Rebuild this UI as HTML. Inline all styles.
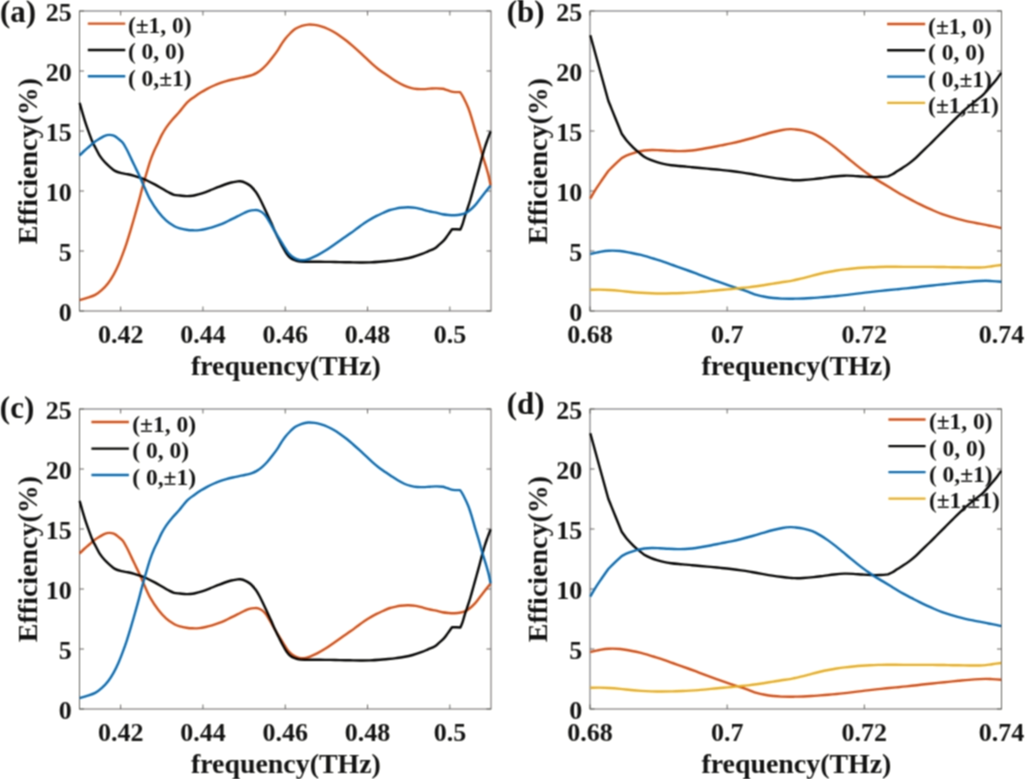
<!DOCTYPE html>
<html><head><meta charset="utf-8"><style>
html,body{margin:0;padding:0;background:#fff;width:1025px;height:779px;overflow:hidden}
svg{display:block}
</style></head><body>
<svg width="1025" height="779" viewBox="0 0 1025 779">
<defs><filter id="bl" filterUnits="userSpaceOnUse" x="-10" y="-10" width="1045" height="799" color-interpolation-filters="sRGB"><feColorMatrix in="SourceGraphic" type="matrix" values="0.299 0.587 0.114 0 0 0.299 0.587 0.114 0 0 0.299 0.587 0.114 0 0 0 0 0 1 0" result="Y"/><feColorMatrix in="SourceGraphic" type="matrix" values="0.3505 -0.2935 -0.0570 0.0000 0.5000 -0.1495 0.2065 -0.0570 0.0000 0.5000 -0.1495 -0.2935 0.4430 0.0000 0.5000 0.0000 0.0000 0.0000 1.0000 0.0000" result="C"/><feConvolveMatrix in="C" order="5" kernelMatrix="1 4 6 4 1 4 16 24 16 4 6 24 36 24 6 4 16 24 16 4 1 4 6 4 1" edgeMode="duplicate" result="Cb"/><feConvolveMatrix in="Y" order="3" kernelMatrix="0.2500 0.5000 0.2500 0.5000 1.0000 0.5000 0.2500 0.5000 0.2500" edgeMode="duplicate" result="Yb"/><feComposite in="Yb" in2="Cb" operator="arithmetic" k1="0" k2="1" k3="2.0000" k4="-0.9960"/></filter></defs>
<g filter="url(#bl)">
<rect x="-20" y="-20" width="1065" height="819" fill="#fff"/>
<g font-family='"Liberation Serif", serif' font-weight="bold" fill="#111">
<rect x="79.5" y="11.0" width="411.5" height="300.0" fill="none" stroke="#606060" stroke-width="1"/>
<line x1="120.65" y1="311.0" x2="120.65" y2="306.5" stroke="#606060" stroke-width="1"/>
<line x1="120.65" y1="11.0" x2="120.65" y2="15.5" stroke="#606060" stroke-width="1"/>
<line x1="202.95" y1="311.0" x2="202.95" y2="306.5" stroke="#606060" stroke-width="1"/>
<line x1="202.95" y1="11.0" x2="202.95" y2="15.5" stroke="#606060" stroke-width="1"/>
<line x1="285.25" y1="311.0" x2="285.25" y2="306.5" stroke="#606060" stroke-width="1"/>
<line x1="285.25" y1="11.0" x2="285.25" y2="15.5" stroke="#606060" stroke-width="1"/>
<line x1="367.55" y1="311.0" x2="367.55" y2="306.5" stroke="#606060" stroke-width="1"/>
<line x1="367.55" y1="11.0" x2="367.55" y2="15.5" stroke="#606060" stroke-width="1"/>
<line x1="449.85" y1="311.0" x2="449.85" y2="306.5" stroke="#606060" stroke-width="1"/>
<line x1="449.85" y1="11.0" x2="449.85" y2="15.5" stroke="#606060" stroke-width="1"/>
<line x1="79.5" y1="311.0" x2="84.0" y2="311.0" stroke="#606060" stroke-width="1"/>
<line x1="491.0" y1="311.0" x2="486.5" y2="311.0" stroke="#606060" stroke-width="1"/>
<line x1="79.5" y1="251.0" x2="84.0" y2="251.0" stroke="#606060" stroke-width="1"/>
<line x1="491.0" y1="251.0" x2="486.5" y2="251.0" stroke="#606060" stroke-width="1"/>
<line x1="79.5" y1="191.0" x2="84.0" y2="191.0" stroke="#606060" stroke-width="1"/>
<line x1="491.0" y1="191.0" x2="486.5" y2="191.0" stroke="#606060" stroke-width="1"/>
<line x1="79.5" y1="131.0" x2="84.0" y2="131.0" stroke="#606060" stroke-width="1"/>
<line x1="491.0" y1="131.0" x2="486.5" y2="131.0" stroke="#606060" stroke-width="1"/>
<line x1="79.5" y1="71.0" x2="84.0" y2="71.0" stroke="#606060" stroke-width="1"/>
<line x1="491.0" y1="71.0" x2="486.5" y2="71.0" stroke="#606060" stroke-width="1"/>
<line x1="79.5" y1="11.0" x2="84.0" y2="11.0" stroke="#606060" stroke-width="1"/>
<line x1="491.0" y1="11.0" x2="486.5" y2="11.0" stroke="#606060" stroke-width="1"/>
<text x="120.7" y="343.3" font-size="26" text-anchor="middle" >0.42</text>
<text x="202.9" y="343.3" font-size="26" text-anchor="middle" >0.44</text>
<text x="285.2" y="343.3" font-size="26" text-anchor="middle" >0.46</text>
<text x="367.6" y="343.3" font-size="26" text-anchor="middle" >0.48</text>
<text x="449.9" y="343.3" font-size="26" text-anchor="middle" >0.5</text>
<text x="71.7" y="321.0" font-size="26" text-anchor="end" >0</text>
<text x="71.7" y="261.0" font-size="26" text-anchor="end" >5</text>
<text x="71.7" y="201.0" font-size="26" text-anchor="end" >10</text>
<text x="71.7" y="141.0" font-size="26" text-anchor="end" >15</text>
<text x="71.7" y="81.0" font-size="26" text-anchor="end" >20</text>
<text x="71.7" y="21.0" font-size="26" text-anchor="end" >25</text>
<text x="285.9" y="374.8" font-size="27.9" text-anchor="middle" >frequency(THz)</text>
<text x="36.5" y="161.0" font-size="28" text-anchor="middle" transform="rotate(-90 36.5 161.0)">Efficiency(%)</text>
<g fill="none" stroke-width="2.4" stroke-linejoin="round" stroke-linecap="butt">
<path d="M79.80,300.10 C81.02,299.74 84.53,298.81 87.10,297.95 C89.67,297.09 92.78,296.22 95.20,294.92 C97.62,293.63 99.45,292.13 101.60,290.17 C103.75,288.22 106.07,285.85 108.10,283.20 C110.13,280.55 112.05,277.43 113.80,274.30 C115.55,271.17 117.12,267.77 118.60,264.40 C120.08,261.03 121.35,257.70 122.70,254.10 C124.05,250.50 125.37,246.84 126.70,242.80 C128.03,238.76 129.35,234.39 130.70,229.88 C132.05,225.36 133.45,220.47 134.80,215.73 C136.15,210.98 137.52,206.16 138.80,201.40 C140.08,196.64 141.22,191.87 142.50,187.18 C143.78,182.48 145.22,177.59 146.50,173.25 C147.78,168.91 148.95,164.79 150.20,161.12 C151.45,157.46 152.70,154.27 154.00,151.25 C155.30,148.23 156.75,145.64 158.00,143.00 C159.25,140.36 160.12,138.04 161.50,135.43 C162.88,132.81 164.43,130.03 166.30,127.32 C168.17,124.62 170.57,121.71 172.70,119.20 C174.83,116.69 177.30,114.34 179.10,112.25 C180.90,110.16 182.05,108.42 183.50,106.68 C184.95,104.93 186.00,103.40 187.80,101.78 C189.60,100.15 192.15,98.49 194.30,96.95 C196.45,95.41 198.57,93.90 200.70,92.55 C202.83,91.20 204.97,90.01 207.10,88.88 C209.23,87.74 211.37,86.70 213.50,85.75 C215.63,84.80 217.77,83.94 219.90,83.17 C222.03,82.41 224.15,81.76 226.30,81.15 C228.45,80.54 230.65,80.00 232.80,79.50 C234.95,79.00 237.07,78.58 239.20,78.12 C241.33,77.67 243.47,77.28 245.60,76.78 C247.73,76.27 250.07,75.77 252.00,75.08 C253.93,74.38 255.48,73.64 257.20,72.60 C258.92,71.56 260.60,70.33 262.30,68.85 C264.00,67.37 265.68,65.63 267.40,63.70 C269.12,61.77 270.88,59.50 272.60,57.27 C274.32,55.05 276.22,52.55 277.70,50.35 C279.18,48.15 280.20,46.08 281.50,44.10 C282.80,42.12 284.03,40.31 285.50,38.50 C286.97,36.69 288.65,34.86 290.30,33.25 C291.95,31.64 293.48,30.06 295.40,28.82 C297.32,27.59 299.67,26.53 301.80,25.82 C303.93,25.12 306.05,24.73 308.20,24.58 C310.35,24.43 312.55,24.62 314.70,24.93 C316.85,25.23 318.97,25.79 321.10,26.43 C323.23,27.06 325.37,27.82 327.50,28.75 C329.63,29.68 331.77,30.78 333.90,32.03 C336.03,33.27 338.15,34.70 340.30,36.20 C342.45,37.70 344.65,39.31 346.80,41.03 C348.95,42.74 351.07,44.61 353.20,46.47 C355.33,48.34 357.47,50.28 359.60,52.23 C361.73,54.17 363.87,56.17 366.00,58.15 C368.13,60.13 370.27,62.21 372.40,64.10 C374.53,65.99 376.65,67.82 378.80,69.47 C380.95,71.13 383.20,72.60 385.30,74.05 C387.40,75.50 389.32,76.83 391.40,78.20 C393.48,79.57 395.65,81.02 397.80,82.28 C399.95,83.53 402.15,84.78 404.30,85.72 C406.45,86.67 408.57,87.40 410.70,87.95 C412.83,88.50 414.97,88.83 417.10,89.03 C419.23,89.22 421.37,89.18 423.50,89.12 C425.63,89.07 427.77,88.80 429.90,88.67 C432.03,88.55 434.15,88.36 436.30,88.38 C438.45,88.39 441.08,88.49 442.80,88.75 C444.52,89.01 445.32,89.52 446.60,89.95 C447.88,90.38 449.10,90.97 450.50,91.32 C451.90,91.68 453.40,91.97 455.00,92.10 C456.60,92.23 460.10,92.10 460.10,92.10 C460.10,92.10 461.92,94.51 463.30,97.20 C464.68,99.89 466.93,104.49 468.40,108.22 C469.87,111.96 470.92,115.73 472.10,119.60 C473.28,123.47 474.33,127.51 475.50,131.43 C476.67,135.34 477.98,139.25 479.10,143.07 C480.22,146.90 481.08,150.55 482.20,154.35 C483.32,158.15 484.70,162.19 485.80,165.90 C486.90,169.61 488.00,173.36 488.80,176.62 C489.60,179.89 490.30,184.02 490.60,185.50" stroke="#D25018"/>
<path d="M79.60,102.80 C80.15,104.73 81.82,110.75 82.90,114.40 C83.98,118.05 85.03,121.50 86.10,124.70 C87.17,127.90 88.23,130.72 89.30,133.60 C90.37,136.48 91.43,139.57 92.50,142.00 C93.57,144.43 94.53,145.98 95.70,148.20 C96.87,150.42 98.00,153.00 99.50,155.30 C101.00,157.60 102.98,160.08 104.70,162.00 C106.42,163.92 108.10,165.32 109.80,166.80 C111.50,168.28 112.97,169.83 114.90,170.90 C116.83,171.97 119.25,172.63 121.40,173.20 C123.55,173.77 125.67,173.87 127.80,174.30 C129.93,174.73 132.07,175.20 134.20,175.80 C136.33,176.40 138.47,177.12 140.60,177.90 C142.73,178.68 144.65,179.42 147.00,180.50 C149.35,181.58 152.13,183.02 154.70,184.40 C157.27,185.78 160.18,187.53 162.40,188.80 C164.62,190.07 166.07,191.00 168.00,192.00 C169.93,193.00 172.00,194.22 174.00,194.80 C176.00,195.38 177.93,195.28 180.00,195.50 C182.07,195.72 184.27,196.07 186.40,196.10 C188.53,196.13 190.65,196.03 192.80,195.70 C194.95,195.37 197.15,194.70 199.30,194.10 C201.45,193.50 203.57,192.87 205.70,192.10 C207.83,191.33 209.97,190.37 212.10,189.50 C214.23,188.63 216.37,187.73 218.50,186.90 C220.63,186.07 222.77,185.23 224.90,184.50 C227.03,183.77 229.37,182.98 231.30,182.50 C233.23,182.02 235.00,181.80 236.50,181.60 C238.00,181.40 238.80,181.10 240.30,181.30 C241.80,181.50 243.78,182.02 245.50,182.80 C247.22,183.58 248.90,184.50 250.60,186.00 C252.30,187.50 254.20,189.77 255.70,191.80 C257.20,193.83 258.32,195.85 259.60,198.20 C260.88,200.55 262.12,203.22 263.40,205.90 C264.68,208.58 266.02,211.52 267.30,214.30 C268.58,217.08 269.82,219.72 271.10,222.60 C272.38,225.48 273.72,228.82 275.00,231.60 C276.28,234.38 277.52,236.73 278.80,239.30 C280.08,241.87 281.42,244.63 282.70,247.00 C283.98,249.37 285.28,251.75 286.50,253.50 C287.72,255.25 288.75,256.43 290.00,257.50 C291.25,258.57 292.27,259.22 294.00,259.90 C295.73,260.58 297.73,261.30 300.40,261.60 C303.07,261.90 306.73,261.67 310.00,261.70 C313.27,261.73 316.67,261.77 320.00,261.80 C323.33,261.83 326.67,261.85 330.00,261.90 C333.33,261.95 336.67,262.03 340.00,262.10 C343.33,262.17 346.67,262.23 350.00,262.30 C353.33,262.37 356.67,262.48 360.00,262.50 C363.33,262.52 366.67,262.52 370.00,262.40 C373.33,262.28 377.00,262.03 380.00,261.80 C383.00,261.57 385.33,261.28 388.00,261.00 C390.67,260.72 393.42,260.43 396.00,260.10 C398.58,259.77 400.72,259.52 403.50,259.00 C406.28,258.48 409.62,257.85 412.70,257.00 C415.78,256.15 419.45,254.85 422.00,253.90 C424.55,252.95 425.90,252.20 428.00,251.30 C430.10,250.40 432.73,249.60 434.60,248.50 C436.47,247.40 437.65,246.05 439.20,244.70 C440.75,243.35 442.48,241.95 443.90,240.40 C445.32,238.85 446.35,237.25 447.70,235.40 C449.05,233.55 452.00,229.30 452.00,229.30 C452.00,229.30 454.60,229.27 456.00,229.30 C457.40,229.33 460.40,229.50 460.40,229.50 C460.40,229.50 461.68,226.80 462.40,224.70 C463.12,222.60 463.93,219.35 464.70,216.90 C465.47,214.45 466.05,212.90 467.00,210.00 C467.95,207.10 469.32,203.08 470.40,199.50 C471.48,195.92 472.48,192.12 473.50,188.50 C474.52,184.88 475.48,181.47 476.50,177.80 C477.52,174.13 478.65,170.05 479.60,166.50 C480.55,162.95 481.38,159.50 482.20,156.50 C483.02,153.50 483.70,151.08 484.50,148.50 C485.30,145.92 485.98,143.87 487.00,141.00 C488.02,138.13 490.00,132.92 490.60,131.30" stroke="#000000"/>
<path d="M79.60,155.50 C80.35,154.75 82.48,152.50 84.10,151.00 C85.72,149.50 87.58,148.00 89.30,146.50 C91.02,145.00 92.70,143.28 94.40,142.00 C96.10,140.72 97.78,139.83 99.50,138.80 C101.22,137.77 103.08,136.45 104.70,135.80 C106.32,135.15 107.70,134.93 109.20,134.90 C110.70,134.87 112.32,135.07 113.70,135.60 C115.08,136.13 116.02,136.93 117.50,138.10 C118.98,139.27 121.10,140.78 122.60,142.60 C124.10,144.42 125.22,146.63 126.50,149.00 C127.78,151.37 129.02,154.12 130.30,156.80 C131.58,159.48 132.92,162.43 134.20,165.10 C135.48,167.77 136.78,170.23 138.00,172.80 C139.22,175.37 140.42,178.05 141.50,180.50 C142.58,182.95 143.05,184.32 144.50,187.50 C145.95,190.68 147.92,195.57 150.20,199.60 C152.48,203.63 155.52,208.20 158.20,211.70 C160.88,215.20 163.60,218.18 166.30,220.60 C169.00,223.02 172.12,224.92 174.40,226.20 C176.68,227.48 178.00,227.72 180.00,228.30 C182.00,228.88 184.27,229.37 186.40,229.70 C188.53,230.03 190.65,230.23 192.80,230.30 C194.95,230.37 197.15,230.32 199.30,230.10 C201.45,229.88 203.57,229.45 205.70,229.00 C207.83,228.55 209.97,228.03 212.10,227.40 C214.23,226.77 216.37,226.00 218.50,225.20 C220.63,224.40 222.77,223.57 224.90,222.60 C227.03,221.63 229.15,220.47 231.30,219.40 C233.45,218.33 235.65,217.27 237.80,216.20 C239.95,215.13 242.28,213.90 244.20,213.00 C246.12,212.10 247.58,211.28 249.30,210.80 C251.02,210.32 253.00,210.18 254.50,210.10 C256.00,210.02 257.02,209.92 258.30,210.30 C259.58,210.68 260.92,211.42 262.20,212.40 C263.48,213.38 264.72,214.50 266.00,216.20 C267.28,217.90 268.40,220.03 269.90,222.60 C271.40,225.17 273.32,228.70 275.00,231.60 C276.68,234.50 278.45,237.47 280.00,240.00 C281.55,242.53 282.87,244.58 284.30,246.80 C285.73,249.02 286.98,251.47 288.60,253.30 C290.22,255.13 292.22,256.70 294.00,257.80 C295.78,258.90 297.33,259.55 299.30,259.90 C301.27,260.25 303.83,260.20 305.80,259.90 C307.77,259.60 309.13,258.90 311.10,258.10 C313.07,257.30 315.27,256.32 317.60,255.10 C319.93,253.88 322.42,252.50 325.10,250.80 C327.78,249.10 330.85,246.87 333.70,244.90 C336.55,242.93 339.35,240.97 342.20,239.00 C345.05,237.03 347.93,235.15 350.80,233.10 C353.67,231.05 356.53,228.75 359.40,226.70 C362.27,224.65 365.13,222.60 368.00,220.80 C370.87,219.00 374.10,217.20 376.60,215.90 C379.10,214.60 380.77,213.98 383.00,213.00 C385.23,212.02 388.00,210.70 390.00,210.00 C392.00,209.30 393.27,209.17 395.00,208.80 C396.73,208.43 398.22,208.05 400.40,207.80 C402.58,207.55 405.53,207.28 408.10,207.30 C410.67,207.32 413.23,207.48 415.80,207.90 C418.37,208.32 421.13,209.20 423.50,209.80 C425.87,210.40 427.88,211.02 430.00,211.50 C432.12,211.98 434.15,212.23 436.20,212.70 C438.25,213.17 440.25,213.92 442.30,214.30 C444.35,214.68 446.43,214.85 448.50,215.00 C450.57,215.15 452.65,215.28 454.70,215.20 C456.75,215.12 459.02,214.85 460.80,214.50 C462.58,214.15 463.85,213.85 465.40,213.10 C466.95,212.35 468.50,211.28 470.10,210.00 C471.70,208.72 473.42,207.15 475.00,205.40 C476.58,203.65 477.80,201.82 479.60,199.50 C481.40,197.18 483.97,193.82 485.80,191.50 C487.63,189.18 489.80,186.58 490.60,185.60" stroke="#0A6AB0"/>
</g>
<rect x="590.0" y="11.0" width="411.5" height="300.0" fill="none" stroke="#606060" stroke-width="1"/>
<line x1="590.0" y1="311.0" x2="590.0" y2="306.5" stroke="#606060" stroke-width="1"/>
<line x1="590.0" y1="11.0" x2="590.0" y2="15.5" stroke="#606060" stroke-width="1"/>
<line x1="727.1666666666666" y1="311.0" x2="727.1666666666666" y2="306.5" stroke="#606060" stroke-width="1"/>
<line x1="727.1666666666666" y1="11.0" x2="727.1666666666666" y2="15.5" stroke="#606060" stroke-width="1"/>
<line x1="864.3333333333333" y1="311.0" x2="864.3333333333333" y2="306.5" stroke="#606060" stroke-width="1"/>
<line x1="864.3333333333333" y1="11.0" x2="864.3333333333333" y2="15.5" stroke="#606060" stroke-width="1"/>
<line x1="1001.5" y1="311.0" x2="1001.5" y2="306.5" stroke="#606060" stroke-width="1"/>
<line x1="1001.5" y1="11.0" x2="1001.5" y2="15.5" stroke="#606060" stroke-width="1"/>
<line x1="590.0" y1="311.0" x2="594.5" y2="311.0" stroke="#606060" stroke-width="1"/>
<line x1="1001.5" y1="311.0" x2="997.0" y2="311.0" stroke="#606060" stroke-width="1"/>
<line x1="590.0" y1="251.0" x2="594.5" y2="251.0" stroke="#606060" stroke-width="1"/>
<line x1="1001.5" y1="251.0" x2="997.0" y2="251.0" stroke="#606060" stroke-width="1"/>
<line x1="590.0" y1="191.0" x2="594.5" y2="191.0" stroke="#606060" stroke-width="1"/>
<line x1="1001.5" y1="191.0" x2="997.0" y2="191.0" stroke="#606060" stroke-width="1"/>
<line x1="590.0" y1="131.0" x2="594.5" y2="131.0" stroke="#606060" stroke-width="1"/>
<line x1="1001.5" y1="131.0" x2="997.0" y2="131.0" stroke="#606060" stroke-width="1"/>
<line x1="590.0" y1="71.0" x2="594.5" y2="71.0" stroke="#606060" stroke-width="1"/>
<line x1="1001.5" y1="71.0" x2="997.0" y2="71.0" stroke="#606060" stroke-width="1"/>
<line x1="590.0" y1="11.0" x2="594.5" y2="11.0" stroke="#606060" stroke-width="1"/>
<line x1="1001.5" y1="11.0" x2="997.0" y2="11.0" stroke="#606060" stroke-width="1"/>
<text x="590.0" y="343.3" font-size="26" text-anchor="middle" >0.68</text>
<text x="727.2" y="343.3" font-size="26" text-anchor="middle" >0.7</text>
<text x="864.3" y="343.3" font-size="26" text-anchor="middle" >0.72</text>
<text x="1001.5" y="343.3" font-size="26" text-anchor="middle" >0.74</text>
<text x="582.2" y="321.0" font-size="26" text-anchor="end" >0</text>
<text x="582.2" y="261.0" font-size="26" text-anchor="end" >5</text>
<text x="582.2" y="201.0" font-size="26" text-anchor="end" >10</text>
<text x="582.2" y="141.0" font-size="26" text-anchor="end" >15</text>
<text x="582.2" y="81.0" font-size="26" text-anchor="end" >20</text>
<text x="582.2" y="21.0" font-size="26" text-anchor="end" >25</text>
<text x="796.4" y="374.8" font-size="27.9" text-anchor="middle" >frequency(THz)</text>
<text x="547.0" y="161.0" font-size="28" text-anchor="middle" transform="rotate(-90 547.0 161.0)">Efficiency(%)</text>
<g fill="none" stroke-width="2.4" stroke-linejoin="round" stroke-linecap="butt">
<path d="M590.30,198.60 C591.15,197.14 593.48,192.88 595.40,189.82 C597.32,186.77 599.65,183.44 601.80,180.30 C603.95,177.16 608.30,171.00 608.30,171.00 C608.30,171.00 612.47,166.75 614.70,164.60 C616.93,162.45 621.70,158.10 621.70,158.10 C621.70,158.10 626.33,155.70 628.80,154.70 C631.27,153.70 633.93,152.78 636.50,152.07 C639.07,151.37 641.63,150.82 644.20,150.47 C646.77,150.13 649.33,150.04 651.90,150.00 C654.47,149.96 656.82,150.12 659.60,150.25 C662.38,150.38 665.60,150.63 668.60,150.78 C671.60,150.92 674.82,151.08 677.60,151.12 C680.38,151.17 682.90,151.14 685.30,151.03 C687.70,150.91 689.50,150.74 692.00,150.45 C694.50,150.16 697.22,149.78 700.30,149.28 C703.38,148.78 707.08,148.09 710.50,147.45 C713.92,146.81 717.37,146.10 720.80,145.43 C724.23,144.75 727.68,144.13 731.10,143.40 C734.52,142.67 737.88,141.89 741.30,141.02 C744.72,140.16 748.17,139.20 751.60,138.23 C755.03,137.25 758.47,136.20 761.90,135.20 C765.33,134.20 768.78,133.09 772.20,132.22 C775.62,131.36 779.42,130.51 782.40,130.00 C785.38,129.49 788.00,129.25 790.10,129.15 C792.20,129.05 792.80,129.15 795.00,129.40 C797.20,129.65 800.42,129.99 803.30,130.62 C806.18,131.26 809.52,132.14 812.30,133.23 C815.08,134.31 817.43,135.67 820.00,137.15 C822.57,138.63 825.13,140.33 827.70,142.12 C830.27,143.92 832.83,145.89 835.40,147.90 C837.97,149.91 840.53,152.06 843.10,154.17 C845.67,156.29 848.23,158.49 850.80,160.60 C853.37,162.71 855.93,164.85 858.50,166.85 C861.07,168.85 863.63,170.76 866.20,172.62 C868.77,174.49 871.12,176.26 873.90,178.05 C876.68,179.84 880.12,181.68 882.90,183.35 C885.68,185.02 888.25,186.61 890.60,188.05 C892.95,189.49 894.82,190.70 897.00,192.00 C899.18,193.30 901.30,194.51 903.70,195.82 C906.10,197.14 908.83,198.53 911.40,199.88 C913.97,201.22 916.53,202.63 919.10,203.93 C921.67,205.22 924.23,206.47 926.80,207.65 C929.37,208.83 931.93,209.93 934.50,211.00 C937.07,212.07 939.63,213.10 942.20,214.05 C944.77,215.00 947.33,215.87 949.90,216.67 C952.47,217.48 955.03,218.19 957.60,218.88 C960.17,219.56 962.73,220.21 965.30,220.80 C967.87,221.39 970.43,221.91 973.00,222.43 C975.57,222.94 978.13,223.40 980.70,223.90 C983.27,224.40 985.83,224.95 988.40,225.45 C990.97,225.95 993.97,226.45 996.10,226.88 C998.23,227.30 1000.35,227.81 1001.20,228.00" stroke="#D25018"/>
<path d="M590.30,35.30 C590.30,35.30 599.30,68.00 599.30,68.00 C599.30,68.00 608.30,100.70 608.30,100.70 C608.30,100.70 610.22,105.42 611.50,108.60 C612.78,111.78 614.30,115.62 616.00,119.80 C617.70,123.98 621.70,133.70 621.70,133.70 C621.70,133.70 625.57,139.19 627.50,141.50 C629.43,143.81 631.37,145.71 633.30,147.57 C635.23,149.44 637.28,151.17 639.10,152.70 C640.92,154.22 642.28,155.54 644.20,156.72 C646.12,157.91 648.47,158.93 650.60,159.82 C652.73,160.72 654.85,161.42 657.00,162.10 C659.15,162.78 661.13,163.35 663.50,163.88 C665.87,164.40 668.63,164.87 671.20,165.22 C673.77,165.58 676.33,165.80 678.90,166.03 C681.47,166.25 684.42,166.40 686.60,166.60 C688.78,166.80 689.72,167.01 692.00,167.25 C694.28,167.49 697.22,167.75 700.30,168.03 C703.38,168.30 707.08,168.61 710.50,168.93 C713.92,169.24 717.37,169.58 720.80,169.93 C724.23,170.28 727.68,170.62 731.10,171.02 C734.52,171.43 737.88,171.85 741.30,172.35 C744.72,172.85 748.17,173.44 751.60,174.03 C755.03,174.61 758.47,175.28 761.90,175.88 C765.33,176.47 768.78,177.10 772.20,177.62 C775.62,178.15 779.42,178.65 782.40,179.02 C785.38,179.40 788.00,179.66 790.10,179.85 C792.20,180.04 792.80,180.15 795.00,180.18 C797.20,180.20 800.22,180.17 803.30,180.00 C806.38,179.83 810.08,179.51 813.50,179.15 C816.92,178.79 820.37,178.29 823.80,177.85 C827.23,177.41 830.68,176.86 834.10,176.50 C837.52,176.14 841.10,175.79 844.30,175.68 C847.50,175.56 850.30,175.68 853.30,175.83 C856.30,175.97 859.30,176.35 862.30,176.55 C865.30,176.75 868.30,176.98 871.30,177.05 C874.30,177.12 877.52,177.11 880.30,177.00 C883.08,176.89 888.00,176.40 888.00,176.40 C888.00,176.40 891.50,174.85 893.00,174.00 C894.50,173.15 895.43,172.33 897.00,171.32 C898.57,170.32 900.43,169.26 902.40,167.98 C904.37,166.69 906.65,165.22 908.80,163.62 C910.95,162.03 913.15,160.32 915.30,158.40 C917.45,156.48 919.35,154.40 921.70,152.12 C924.05,149.85 926.83,147.27 929.40,144.75 C931.97,142.23 934.53,139.57 937.10,137.00 C939.67,134.43 942.23,131.87 944.80,129.30 C947.37,126.73 949.93,124.14 952.50,121.60 C955.07,119.06 957.63,116.47 960.20,114.07 C962.77,111.67 965.33,109.39 967.90,107.20 C970.47,105.01 973.03,103.06 975.60,100.95 C978.17,98.84 980.95,96.78 983.30,94.53 C985.65,92.28 987.57,89.86 989.70,87.45 C991.83,85.04 994.18,82.49 996.10,80.05 C998.02,77.61 1000.35,74.01 1001.20,72.80" stroke="#000000"/>
<path d="M590.30,254.10 C591.82,253.75 596.32,252.56 599.40,252.00 C602.48,251.44 605.33,250.89 608.80,250.73 C612.27,250.56 616.57,250.67 620.20,251.00 C623.83,251.33 627.13,252.07 630.60,252.72 C634.07,253.38 638.10,254.21 641.00,254.90 C643.90,255.59 645.67,256.17 648.00,256.85 C650.33,257.53 652.37,258.17 655.00,259.00 C657.63,259.83 660.87,260.85 663.80,261.85 C666.73,262.85 669.68,263.96 672.60,265.00 C675.52,266.04 678.38,267.06 681.30,268.10 C684.22,269.14 687.17,270.18 690.10,271.25 C693.03,272.32 695.97,273.42 698.90,274.52 C701.83,275.62 704.77,276.76 707.70,277.85 C710.63,278.94 713.58,280.02 716.50,281.07 C719.42,282.12 722.28,283.15 725.20,284.15 C728.12,285.15 731.07,286.14 734.00,287.10 C736.93,288.06 740.13,289.02 742.80,289.93 C745.47,290.83 747.72,291.72 750.00,292.55 C752.28,293.38 754.03,294.20 756.50,294.90 C758.97,295.60 762.02,296.26 764.80,296.77 C767.58,297.29 770.42,297.69 773.20,298.00 C775.98,298.31 778.73,298.50 781.50,298.62 C784.27,298.75 787.55,298.75 789.80,298.75 C792.05,298.75 792.75,298.70 795.00,298.65 C797.25,298.60 800.53,298.58 803.30,298.48 C806.07,298.38 808.82,298.23 811.60,298.05 C814.38,297.87 817.22,297.62 820.00,297.40 C822.78,297.17 825.53,296.94 828.30,296.70 C831.07,296.46 833.83,296.24 836.60,295.98 C839.37,295.71 842.13,295.43 844.90,295.12 C847.67,294.82 850.43,294.46 853.20,294.12 C855.97,293.79 858.73,293.44 861.50,293.10 C864.27,292.76 867.02,292.43 869.80,292.10 C872.58,291.78 875.42,291.45 878.20,291.15 C880.98,290.85 883.53,290.57 886.50,290.27 C889.47,289.98 892.68,289.71 896.00,289.40 C899.32,289.09 902.92,288.77 906.40,288.40 C909.88,288.03 913.42,287.60 916.90,287.20 C920.38,286.80 923.82,286.36 927.30,285.98 C930.78,285.59 934.32,285.23 937.80,284.88 C941.28,284.52 944.73,284.17 948.20,283.82 C951.67,283.48 955.12,283.13 958.60,282.80 C962.08,282.47 965.62,282.11 969.10,281.83 C972.58,281.54 976.72,281.24 979.50,281.07 C982.28,280.91 983.72,280.82 985.80,280.82 C987.88,280.83 989.43,280.96 992.00,281.12 C994.57,281.29 999.67,281.69 1001.20,281.80" stroke="#0A6AB0"/>
<path d="M590.30,289.80 C591.82,289.77 596.32,289.62 599.40,289.65 C602.48,289.68 605.33,289.77 608.80,289.98 C612.27,290.18 616.57,290.54 620.20,290.88 C623.83,291.21 627.13,291.65 630.60,291.98 C634.07,292.30 637.53,292.60 641.00,292.82 C644.47,293.05 647.93,293.21 651.40,293.32 C654.87,293.44 658.33,293.50 661.80,293.50 C665.27,293.50 668.73,293.41 672.20,293.32 C675.67,293.24 679.63,293.09 682.60,292.97 C685.57,292.86 687.38,292.77 690.00,292.62 C692.62,292.48 695.53,292.32 698.30,292.10 C701.07,291.88 703.82,291.59 706.60,291.32 C709.38,291.06 712.22,290.79 715.00,290.52 C717.78,290.26 720.53,290.01 723.30,289.75 C726.07,289.49 728.83,289.21 731.60,288.95 C734.37,288.69 737.13,288.45 739.90,288.17 C742.67,287.90 745.43,287.64 748.20,287.32 C750.97,287.01 753.73,286.66 756.50,286.27 C759.27,285.89 762.02,285.45 764.80,285.00 C767.58,284.55 770.42,284.06 773.20,283.60 C775.98,283.14 778.73,282.66 781.50,282.25 C784.27,281.84 787.55,281.50 789.80,281.12 C792.05,280.75 792.75,280.49 795.00,280.00 C797.25,279.51 800.53,278.87 803.30,278.18 C806.07,277.48 808.82,276.59 811.60,275.85 C814.38,275.11 817.22,274.39 820.00,273.75 C822.78,273.11 825.53,272.53 828.30,272.00 C831.07,271.47 833.83,270.98 836.60,270.55 C839.37,270.12 842.13,269.74 844.90,269.40 C847.67,269.06 850.43,268.77 853.20,268.50 C855.97,268.23 858.73,267.98 861.50,267.77 C864.27,267.57 867.02,267.39 869.80,267.25 C872.58,267.11 875.42,267.00 878.20,266.93 C880.98,266.85 883.53,266.80 886.50,266.77 C889.47,266.75 892.68,266.78 896.00,266.80 C899.32,266.82 902.92,266.86 906.40,266.88 C909.88,266.89 913.42,266.90 916.90,266.90 C920.38,266.90 923.82,266.89 927.30,266.90 C930.78,266.91 934.32,266.92 937.80,266.95 C941.28,266.98 944.73,267.04 948.20,267.10 C951.67,267.16 955.12,267.24 958.60,267.30 C962.08,267.36 965.62,267.43 969.10,267.45 C972.58,267.47 976.72,267.51 979.50,267.45 C982.28,267.39 983.72,267.30 985.80,267.10 C987.88,266.90 989.43,266.58 992.00,266.23 C994.57,265.88 999.67,265.20 1001.20,265.00" stroke="#E6AE24"/>
</g>
<rect x="79.5" y="409.0" width="411.5" height="300.0" fill="none" stroke="#606060" stroke-width="1"/>
<line x1="120.65" y1="709.0" x2="120.65" y2="704.5" stroke="#606060" stroke-width="1"/>
<line x1="120.65" y1="409.0" x2="120.65" y2="413.5" stroke="#606060" stroke-width="1"/>
<line x1="202.95" y1="709.0" x2="202.95" y2="704.5" stroke="#606060" stroke-width="1"/>
<line x1="202.95" y1="409.0" x2="202.95" y2="413.5" stroke="#606060" stroke-width="1"/>
<line x1="285.25" y1="709.0" x2="285.25" y2="704.5" stroke="#606060" stroke-width="1"/>
<line x1="285.25" y1="409.0" x2="285.25" y2="413.5" stroke="#606060" stroke-width="1"/>
<line x1="367.55" y1="709.0" x2="367.55" y2="704.5" stroke="#606060" stroke-width="1"/>
<line x1="367.55" y1="409.0" x2="367.55" y2="413.5" stroke="#606060" stroke-width="1"/>
<line x1="449.85" y1="709.0" x2="449.85" y2="704.5" stroke="#606060" stroke-width="1"/>
<line x1="449.85" y1="409.0" x2="449.85" y2="413.5" stroke="#606060" stroke-width="1"/>
<line x1="79.5" y1="709.0" x2="84.0" y2="709.0" stroke="#606060" stroke-width="1"/>
<line x1="491.0" y1="709.0" x2="486.5" y2="709.0" stroke="#606060" stroke-width="1"/>
<line x1="79.5" y1="649.0" x2="84.0" y2="649.0" stroke="#606060" stroke-width="1"/>
<line x1="491.0" y1="649.0" x2="486.5" y2="649.0" stroke="#606060" stroke-width="1"/>
<line x1="79.5" y1="589.0" x2="84.0" y2="589.0" stroke="#606060" stroke-width="1"/>
<line x1="491.0" y1="589.0" x2="486.5" y2="589.0" stroke="#606060" stroke-width="1"/>
<line x1="79.5" y1="529.0" x2="84.0" y2="529.0" stroke="#606060" stroke-width="1"/>
<line x1="491.0" y1="529.0" x2="486.5" y2="529.0" stroke="#606060" stroke-width="1"/>
<line x1="79.5" y1="469.0" x2="84.0" y2="469.0" stroke="#606060" stroke-width="1"/>
<line x1="491.0" y1="469.0" x2="486.5" y2="469.0" stroke="#606060" stroke-width="1"/>
<line x1="79.5" y1="409.0" x2="84.0" y2="409.0" stroke="#606060" stroke-width="1"/>
<line x1="491.0" y1="409.0" x2="486.5" y2="409.0" stroke="#606060" stroke-width="1"/>
<text x="120.7" y="741.3" font-size="26" text-anchor="middle" >0.42</text>
<text x="202.9" y="741.3" font-size="26" text-anchor="middle" >0.44</text>
<text x="285.2" y="741.3" font-size="26" text-anchor="middle" >0.46</text>
<text x="367.6" y="741.3" font-size="26" text-anchor="middle" >0.48</text>
<text x="449.9" y="741.3" font-size="26" text-anchor="middle" >0.5</text>
<text x="71.7" y="719.0" font-size="26" text-anchor="end" >0</text>
<text x="71.7" y="659.0" font-size="26" text-anchor="end" >5</text>
<text x="71.7" y="599.0" font-size="26" text-anchor="end" >10</text>
<text x="71.7" y="539.0" font-size="26" text-anchor="end" >15</text>
<text x="71.7" y="479.0" font-size="26" text-anchor="end" >20</text>
<text x="71.7" y="419.0" font-size="26" text-anchor="end" >25</text>
<text x="285.9" y="772.8" font-size="27.9" text-anchor="middle" >frequency(THz)</text>
<text x="36.5" y="559.0" font-size="28" text-anchor="middle" transform="rotate(-90 36.5 559.0)">Efficiency(%)</text>
<g fill="none" stroke-width="2.4" stroke-linejoin="round" stroke-linecap="butt">
<path d="M79.60,553.50 C80.35,552.75 82.48,550.50 84.10,549.00 C85.72,547.50 87.58,546.00 89.30,544.50 C91.02,543.00 92.70,541.28 94.40,540.00 C96.10,538.72 97.78,537.83 99.50,536.80 C101.22,535.77 103.08,534.45 104.70,533.80 C106.32,533.15 107.70,532.93 109.20,532.90 C110.70,532.87 112.32,533.07 113.70,533.60 C115.08,534.13 116.02,534.93 117.50,536.10 C118.98,537.27 121.10,538.78 122.60,540.60 C124.10,542.42 125.22,544.63 126.50,547.00 C127.78,549.37 129.02,552.12 130.30,554.80 C131.58,557.48 132.92,560.43 134.20,563.10 C135.48,565.77 136.78,568.23 138.00,570.80 C139.22,573.37 140.42,576.05 141.50,578.50 C142.58,580.95 143.05,582.32 144.50,585.50 C145.95,588.68 147.92,593.57 150.20,597.60 C152.48,601.63 155.52,606.20 158.20,609.70 C160.88,613.20 163.60,616.18 166.30,618.60 C169.00,621.02 172.12,622.92 174.40,624.20 C176.68,625.48 178.00,625.72 180.00,626.30 C182.00,626.88 184.27,627.37 186.40,627.70 C188.53,628.03 190.65,628.23 192.80,628.30 C194.95,628.37 197.15,628.32 199.30,628.10 C201.45,627.88 203.57,627.45 205.70,627.00 C207.83,626.55 209.97,626.03 212.10,625.40 C214.23,624.77 216.37,624.00 218.50,623.20 C220.63,622.40 222.77,621.57 224.90,620.60 C227.03,619.63 229.15,618.47 231.30,617.40 C233.45,616.33 235.65,615.27 237.80,614.20 C239.95,613.13 242.28,611.90 244.20,611.00 C246.12,610.10 247.58,609.28 249.30,608.80 C251.02,608.32 253.00,608.18 254.50,608.10 C256.00,608.02 257.02,607.92 258.30,608.30 C259.58,608.68 260.92,609.42 262.20,610.40 C263.48,611.38 264.72,612.50 266.00,614.20 C267.28,615.90 268.40,618.03 269.90,620.60 C271.40,623.17 273.32,626.70 275.00,629.60 C276.68,632.50 278.45,635.47 280.00,638.00 C281.55,640.53 282.87,642.58 284.30,644.80 C285.73,647.02 286.98,649.47 288.60,651.30 C290.22,653.13 292.22,654.70 294.00,655.80 C295.78,656.90 297.33,657.55 299.30,657.90 C301.27,658.25 303.83,658.20 305.80,657.90 C307.77,657.60 309.13,656.90 311.10,656.10 C313.07,655.30 315.27,654.32 317.60,653.10 C319.93,651.88 322.42,650.50 325.10,648.80 C327.78,647.10 330.85,644.87 333.70,642.90 C336.55,640.93 339.35,638.97 342.20,637.00 C345.05,635.03 347.93,633.15 350.80,631.10 C353.67,629.05 356.53,626.75 359.40,624.70 C362.27,622.65 365.13,620.60 368.00,618.80 C370.87,617.00 374.10,615.20 376.60,613.90 C379.10,612.60 380.77,611.98 383.00,611.00 C385.23,610.02 388.00,608.70 390.00,608.00 C392.00,607.30 393.27,607.17 395.00,606.80 C396.73,606.43 398.22,606.05 400.40,605.80 C402.58,605.55 405.53,605.28 408.10,605.30 C410.67,605.32 413.23,605.48 415.80,605.90 C418.37,606.32 421.13,607.20 423.50,607.80 C425.87,608.40 427.88,609.02 430.00,609.50 C432.12,609.98 434.15,610.23 436.20,610.70 C438.25,611.17 440.25,611.92 442.30,612.30 C444.35,612.68 446.43,612.85 448.50,613.00 C450.57,613.15 452.65,613.28 454.70,613.20 C456.75,613.12 459.02,612.85 460.80,612.50 C462.58,612.15 463.85,611.85 465.40,611.10 C466.95,610.35 468.50,609.28 470.10,608.00 C471.70,606.72 473.42,605.15 475.00,603.40 C476.58,601.65 477.80,599.82 479.60,597.50 C481.40,595.18 483.97,591.82 485.80,589.50 C487.63,587.18 489.80,584.58 490.60,583.60" stroke="#D25018"/>
<path d="M79.60,500.80 C80.15,502.73 81.82,508.75 82.90,512.40 C83.98,516.05 85.03,519.50 86.10,522.70 C87.17,525.90 88.23,528.72 89.30,531.60 C90.37,534.48 91.43,537.57 92.50,540.00 C93.57,542.43 94.53,543.98 95.70,546.20 C96.87,548.42 98.00,551.00 99.50,553.30 C101.00,555.60 102.98,558.08 104.70,560.00 C106.42,561.92 108.10,563.32 109.80,564.80 C111.50,566.28 112.97,567.83 114.90,568.90 C116.83,569.97 119.25,570.63 121.40,571.20 C123.55,571.77 125.67,571.87 127.80,572.30 C129.93,572.73 132.07,573.20 134.20,573.80 C136.33,574.40 138.47,575.12 140.60,575.90 C142.73,576.68 144.65,577.42 147.00,578.50 C149.35,579.58 152.13,581.02 154.70,582.40 C157.27,583.78 160.18,585.53 162.40,586.80 C164.62,588.07 166.07,589.00 168.00,590.00 C169.93,591.00 172.00,592.22 174.00,592.80 C176.00,593.38 177.93,593.28 180.00,593.50 C182.07,593.72 184.27,594.07 186.40,594.10 C188.53,594.13 190.65,594.03 192.80,593.70 C194.95,593.37 197.15,592.70 199.30,592.10 C201.45,591.50 203.57,590.87 205.70,590.10 C207.83,589.33 209.97,588.37 212.10,587.50 C214.23,586.63 216.37,585.73 218.50,584.90 C220.63,584.07 222.77,583.23 224.90,582.50 C227.03,581.77 229.37,580.98 231.30,580.50 C233.23,580.02 235.00,579.80 236.50,579.60 C238.00,579.40 238.80,579.10 240.30,579.30 C241.80,579.50 243.78,580.02 245.50,580.80 C247.22,581.58 248.90,582.50 250.60,584.00 C252.30,585.50 254.20,587.77 255.70,589.80 C257.20,591.83 258.32,593.85 259.60,596.20 C260.88,598.55 262.12,601.22 263.40,603.90 C264.68,606.58 266.02,609.52 267.30,612.30 C268.58,615.08 269.82,617.72 271.10,620.60 C272.38,623.48 273.72,626.82 275.00,629.60 C276.28,632.38 277.52,634.73 278.80,637.30 C280.08,639.87 281.42,642.63 282.70,645.00 C283.98,647.37 285.28,649.75 286.50,651.50 C287.72,653.25 288.75,654.43 290.00,655.50 C291.25,656.57 292.27,657.22 294.00,657.90 C295.73,658.58 297.73,659.30 300.40,659.60 C303.07,659.90 306.73,659.67 310.00,659.70 C313.27,659.73 316.67,659.77 320.00,659.80 C323.33,659.83 326.67,659.85 330.00,659.90 C333.33,659.95 336.67,660.03 340.00,660.10 C343.33,660.17 346.67,660.23 350.00,660.30 C353.33,660.37 356.67,660.48 360.00,660.50 C363.33,660.52 366.67,660.52 370.00,660.40 C373.33,660.28 377.00,660.03 380.00,659.80 C383.00,659.57 385.33,659.28 388.00,659.00 C390.67,658.72 393.42,658.43 396.00,658.10 C398.58,657.77 400.72,657.52 403.50,657.00 C406.28,656.48 409.62,655.85 412.70,655.00 C415.78,654.15 419.45,652.85 422.00,651.90 C424.55,650.95 425.90,650.20 428.00,649.30 C430.10,648.40 432.73,647.60 434.60,646.50 C436.47,645.40 437.65,644.05 439.20,642.70 C440.75,641.35 442.48,639.95 443.90,638.40 C445.32,636.85 446.35,635.25 447.70,633.40 C449.05,631.55 452.00,627.30 452.00,627.30 C452.00,627.30 454.60,627.27 456.00,627.30 C457.40,627.33 460.40,627.50 460.40,627.50 C460.40,627.50 461.68,624.80 462.40,622.70 C463.12,620.60 463.93,617.35 464.70,614.90 C465.47,612.45 466.05,610.90 467.00,608.00 C467.95,605.10 469.32,601.08 470.40,597.50 C471.48,593.92 472.48,590.12 473.50,586.50 C474.52,582.88 475.48,579.47 476.50,575.80 C477.52,572.13 478.65,568.05 479.60,564.50 C480.55,560.95 481.38,557.50 482.20,554.50 C483.02,551.50 483.70,549.08 484.50,546.50 C485.30,543.92 485.98,541.87 487.00,539.00 C488.02,536.13 490.00,530.92 490.60,529.30" stroke="#000000"/>
<path d="M79.80,698.10 C81.02,697.74 84.53,696.81 87.10,695.95 C89.67,695.09 92.78,694.22 95.20,692.92 C97.62,691.63 99.45,690.13 101.60,688.17 C103.75,686.22 106.07,683.85 108.10,681.20 C110.13,678.55 112.05,675.43 113.80,672.30 C115.55,669.17 117.12,665.77 118.60,662.40 C120.08,659.03 121.35,655.70 122.70,652.10 C124.05,648.50 125.37,644.84 126.70,640.80 C128.03,636.76 129.35,632.39 130.70,627.88 C132.05,623.36 133.45,618.47 134.80,613.73 C136.15,608.98 137.52,604.16 138.80,599.40 C140.08,594.64 141.22,589.87 142.50,585.17 C143.78,580.48 145.22,575.59 146.50,571.25 C147.78,566.91 148.95,562.79 150.20,559.12 C151.45,555.46 152.70,552.27 154.00,549.25 C155.30,546.23 156.75,543.64 158.00,541.00 C159.25,538.36 160.12,536.04 161.50,533.42 C162.88,530.81 164.43,528.03 166.30,525.33 C168.17,522.62 170.57,519.71 172.70,517.20 C174.83,514.69 177.30,512.34 179.10,510.25 C180.90,508.16 182.05,506.42 183.50,504.68 C184.95,502.93 186.00,501.40 187.80,499.77 C189.60,498.15 192.15,496.49 194.30,494.95 C196.45,493.41 198.57,491.90 200.70,490.55 C202.83,489.20 204.97,488.01 207.10,486.88 C209.23,485.74 211.37,484.70 213.50,483.75 C215.63,482.80 217.77,481.94 219.90,481.18 C222.03,480.41 224.15,479.76 226.30,479.15 C228.45,478.54 230.65,478.00 232.80,477.50 C234.95,477.00 237.07,476.58 239.20,476.12 C241.33,475.67 243.47,475.28 245.60,474.77 C247.73,474.27 250.07,473.77 252.00,473.07 C253.93,472.38 255.48,471.64 257.20,470.60 C258.92,469.56 260.60,468.33 262.30,466.85 C264.00,465.37 265.68,463.63 267.40,461.70 C269.12,459.77 270.88,457.50 272.60,455.27 C274.32,453.05 276.22,450.55 277.70,448.35 C279.18,446.15 280.20,444.08 281.50,442.10 C282.80,440.12 284.03,438.31 285.50,436.50 C286.97,434.69 288.65,432.86 290.30,431.25 C291.95,429.64 293.48,428.06 295.40,426.82 C297.32,425.59 299.67,424.53 301.80,423.82 C303.93,423.12 306.05,422.72 308.20,422.57 C310.35,422.43 312.55,422.62 314.70,422.93 C316.85,423.23 318.97,423.79 321.10,424.43 C323.23,425.06 325.37,425.82 327.50,426.75 C329.63,427.68 331.77,428.78 333.90,430.02 C336.03,431.27 338.15,432.70 340.30,434.20 C342.45,435.70 344.65,437.31 346.80,439.02 C348.95,440.74 351.07,442.61 353.20,444.48 C355.33,446.34 357.47,448.28 359.60,450.23 C361.73,452.17 363.87,454.17 366.00,456.15 C368.13,458.13 370.27,460.21 372.40,462.10 C374.53,463.99 376.65,465.82 378.80,467.48 C380.95,469.13 383.20,470.60 385.30,472.05 C387.40,473.50 389.32,474.83 391.40,476.20 C393.48,477.57 395.65,479.02 397.80,480.27 C399.95,481.53 402.15,482.78 404.30,483.73 C406.45,484.67 408.57,485.40 410.70,485.95 C412.83,486.50 414.97,486.83 417.10,487.02 C419.23,487.22 421.37,487.18 423.50,487.12 C425.63,487.07 427.77,486.80 429.90,486.68 C432.03,486.55 434.15,486.36 436.30,486.38 C438.45,486.39 441.08,486.49 442.80,486.75 C444.52,487.01 445.32,487.52 446.60,487.95 C447.88,488.38 449.10,488.97 450.50,489.32 C451.90,489.68 453.40,489.97 455.00,490.10 C456.60,490.23 460.10,490.10 460.10,490.10 C460.10,490.10 461.92,492.51 463.30,495.20 C464.68,497.89 466.93,502.49 468.40,506.23 C469.87,509.96 470.92,513.73 472.10,517.60 C473.28,521.47 474.33,525.51 475.50,529.42 C476.67,533.34 477.98,537.25 479.10,541.08 C480.22,544.90 481.08,548.55 482.20,552.35 C483.32,556.15 484.70,560.19 485.80,563.90 C486.90,567.61 488.00,571.36 488.80,574.62 C489.60,577.89 490.30,582.02 490.60,583.50" stroke="#0A6AB0"/>
</g>
<rect x="590.0" y="409.0" width="411.5" height="300.0" fill="none" stroke="#606060" stroke-width="1"/>
<line x1="590.0" y1="709.0" x2="590.0" y2="704.5" stroke="#606060" stroke-width="1"/>
<line x1="590.0" y1="409.0" x2="590.0" y2="413.5" stroke="#606060" stroke-width="1"/>
<line x1="727.1666666666666" y1="709.0" x2="727.1666666666666" y2="704.5" stroke="#606060" stroke-width="1"/>
<line x1="727.1666666666666" y1="409.0" x2="727.1666666666666" y2="413.5" stroke="#606060" stroke-width="1"/>
<line x1="864.3333333333333" y1="709.0" x2="864.3333333333333" y2="704.5" stroke="#606060" stroke-width="1"/>
<line x1="864.3333333333333" y1="409.0" x2="864.3333333333333" y2="413.5" stroke="#606060" stroke-width="1"/>
<line x1="1001.5" y1="709.0" x2="1001.5" y2="704.5" stroke="#606060" stroke-width="1"/>
<line x1="1001.5" y1="409.0" x2="1001.5" y2="413.5" stroke="#606060" stroke-width="1"/>
<line x1="590.0" y1="709.0" x2="594.5" y2="709.0" stroke="#606060" stroke-width="1"/>
<line x1="1001.5" y1="709.0" x2="997.0" y2="709.0" stroke="#606060" stroke-width="1"/>
<line x1="590.0" y1="649.0" x2="594.5" y2="649.0" stroke="#606060" stroke-width="1"/>
<line x1="1001.5" y1="649.0" x2="997.0" y2="649.0" stroke="#606060" stroke-width="1"/>
<line x1="590.0" y1="589.0" x2="594.5" y2="589.0" stroke="#606060" stroke-width="1"/>
<line x1="1001.5" y1="589.0" x2="997.0" y2="589.0" stroke="#606060" stroke-width="1"/>
<line x1="590.0" y1="529.0" x2="594.5" y2="529.0" stroke="#606060" stroke-width="1"/>
<line x1="1001.5" y1="529.0" x2="997.0" y2="529.0" stroke="#606060" stroke-width="1"/>
<line x1="590.0" y1="469.0" x2="594.5" y2="469.0" stroke="#606060" stroke-width="1"/>
<line x1="1001.5" y1="469.0" x2="997.0" y2="469.0" stroke="#606060" stroke-width="1"/>
<line x1="590.0" y1="409.0" x2="594.5" y2="409.0" stroke="#606060" stroke-width="1"/>
<line x1="1001.5" y1="409.0" x2="997.0" y2="409.0" stroke="#606060" stroke-width="1"/>
<text x="590.0" y="741.3" font-size="26" text-anchor="middle" >0.68</text>
<text x="727.2" y="741.3" font-size="26" text-anchor="middle" >0.7</text>
<text x="864.3" y="741.3" font-size="26" text-anchor="middle" >0.72</text>
<text x="1001.5" y="741.3" font-size="26" text-anchor="middle" >0.74</text>
<text x="582.2" y="719.0" font-size="26" text-anchor="end" >0</text>
<text x="582.2" y="659.0" font-size="26" text-anchor="end" >5</text>
<text x="582.2" y="599.0" font-size="26" text-anchor="end" >10</text>
<text x="582.2" y="539.0" font-size="26" text-anchor="end" >15</text>
<text x="582.2" y="479.0" font-size="26" text-anchor="end" >20</text>
<text x="582.2" y="419.0" font-size="26" text-anchor="end" >25</text>
<text x="796.4" y="772.8" font-size="27.9" text-anchor="middle" >frequency(THz)</text>
<text x="547.0" y="559.0" font-size="28" text-anchor="middle" transform="rotate(-90 547.0 559.0)">Efficiency(%)</text>
<g fill="none" stroke-width="2.4" stroke-linejoin="round" stroke-linecap="butt">
<path d="M590.30,652.10 C591.82,651.75 596.32,650.56 599.40,650.00 C602.48,649.44 605.33,648.89 608.80,648.73 C612.27,648.56 616.57,648.67 620.20,649.00 C623.83,649.33 627.13,650.08 630.60,650.73 C634.07,651.38 638.10,652.21 641.00,652.90 C643.90,653.59 645.67,654.17 648.00,654.85 C650.33,655.53 652.37,656.17 655.00,657.00 C657.63,657.83 660.87,658.85 663.80,659.85 C666.73,660.85 669.68,661.96 672.60,663.00 C675.52,664.04 678.38,665.06 681.30,666.10 C684.22,667.14 687.17,668.18 690.10,669.25 C693.03,670.32 695.97,671.42 698.90,672.52 C701.83,673.62 704.77,674.76 707.70,675.85 C710.63,676.94 713.58,678.03 716.50,679.08 C719.42,680.12 722.28,681.15 725.20,682.15 C728.12,683.15 731.07,684.14 734.00,685.10 C736.93,686.06 740.13,687.02 742.80,687.92 C745.47,688.83 747.72,689.72 750.00,690.55 C752.28,691.38 754.03,692.20 756.50,692.90 C758.97,693.60 762.02,694.26 764.80,694.77 C767.58,695.29 770.42,695.69 773.20,696.00 C775.98,696.31 778.73,696.50 781.50,696.62 C784.27,696.75 787.55,696.75 789.80,696.75 C792.05,696.75 792.75,696.70 795.00,696.65 C797.25,696.60 800.53,696.58 803.30,696.48 C806.07,696.38 808.82,696.23 811.60,696.05 C814.38,695.87 817.22,695.62 820.00,695.40 C822.78,695.17 825.53,694.94 828.30,694.70 C831.07,694.46 833.83,694.24 836.60,693.98 C839.37,693.71 842.13,693.43 844.90,693.12 C847.67,692.82 850.43,692.46 853.20,692.12 C855.97,691.79 858.73,691.44 861.50,691.10 C864.27,690.76 867.02,690.42 869.80,690.10 C872.58,689.78 875.42,689.45 878.20,689.15 C880.98,688.85 883.53,688.57 886.50,688.27 C889.47,687.98 892.68,687.71 896.00,687.40 C899.32,687.09 902.92,686.77 906.40,686.40 C909.88,686.03 913.42,685.60 916.90,685.20 C920.38,684.80 923.82,684.36 927.30,683.98 C930.78,683.59 934.32,683.23 937.80,682.88 C941.28,682.52 944.73,682.17 948.20,681.83 C951.67,681.48 955.12,681.13 958.60,680.80 C962.08,680.47 965.62,680.11 969.10,679.83 C972.58,679.54 976.72,679.24 979.50,679.08 C982.28,678.91 983.72,678.82 985.80,678.83 C987.88,678.83 989.43,678.96 992.00,679.12 C994.57,679.29 999.67,679.69 1001.20,679.80" stroke="#D25018"/>
<path d="M590.30,433.30 C590.30,433.30 599.30,466.00 599.30,466.00 C599.30,466.00 608.30,498.70 608.30,498.70 C608.30,498.70 610.22,503.42 611.50,506.60 C612.78,509.78 614.30,513.62 616.00,517.80 C617.70,521.98 621.70,531.70 621.70,531.70 C621.70,531.70 625.57,537.19 627.50,539.50 C629.43,541.81 631.37,543.71 633.30,545.58 C635.23,547.44 637.28,549.18 639.10,550.70 C640.92,552.23 642.28,553.54 644.20,554.73 C646.12,555.91 648.47,556.93 650.60,557.83 C652.73,558.72 654.85,559.43 657.00,560.10 C659.15,560.77 661.13,561.35 663.50,561.88 C665.87,562.40 668.63,562.87 671.20,563.23 C673.77,563.58 676.33,563.80 678.90,564.02 C681.47,564.25 684.42,564.40 686.60,564.60 C688.78,564.80 689.72,565.01 692.00,565.25 C694.28,565.49 697.22,565.75 700.30,566.02 C703.38,566.30 707.08,566.61 710.50,566.92 C713.92,567.24 717.37,567.57 720.80,567.92 C724.23,568.27 727.68,568.62 731.10,569.02 C734.52,569.43 737.88,569.85 741.30,570.35 C744.72,570.85 748.17,571.44 751.60,572.02 C755.03,572.61 758.47,573.27 761.90,573.88 C765.33,574.48 768.78,575.10 772.20,575.62 C775.62,576.15 779.42,576.65 782.40,577.02 C785.38,577.40 788.00,577.66 790.10,577.85 C792.20,578.04 792.80,578.15 795.00,578.17 C797.20,578.20 800.22,578.17 803.30,578.00 C806.38,577.83 810.08,577.51 813.50,577.15 C816.92,576.79 820.37,576.29 823.80,575.85 C827.23,575.41 830.68,574.86 834.10,574.50 C837.52,574.14 841.10,573.79 844.30,573.67 C847.50,573.56 850.30,573.68 853.30,573.83 C856.30,573.97 859.30,574.35 862.30,574.55 C865.30,574.75 868.30,574.97 871.30,575.05 C874.30,575.12 877.52,575.11 880.30,575.00 C883.08,574.89 888.00,574.40 888.00,574.40 C888.00,574.40 891.50,572.85 893.00,572.00 C894.50,571.15 895.43,570.33 897.00,569.33 C898.57,568.32 900.43,567.26 902.40,565.98 C904.37,564.69 906.65,563.22 908.80,561.62 C910.95,560.03 913.15,558.32 915.30,556.40 C917.45,554.48 919.35,552.40 921.70,550.12 C924.05,547.85 926.83,545.27 929.40,542.75 C931.97,540.23 934.53,537.58 937.10,535.00 C939.67,532.42 942.23,529.87 944.80,527.30 C947.37,524.73 949.93,522.14 952.50,519.60 C955.07,517.06 957.63,514.48 960.20,512.08 C962.77,509.68 965.33,507.39 967.90,505.20 C970.47,503.01 973.03,501.06 975.60,498.95 C978.17,496.84 980.95,494.77 983.30,492.52 C985.65,490.27 987.57,487.86 989.70,485.45 C991.83,483.04 994.18,480.49 996.10,478.05 C998.02,475.61 1000.35,472.01 1001.20,470.80" stroke="#000000"/>
<path d="M590.30,596.60 C591.15,595.14 593.48,590.88 595.40,587.83 C597.32,584.78 599.65,581.44 601.80,578.30 C603.95,575.16 608.30,569.00 608.30,569.00 C608.30,569.00 612.47,564.75 614.70,562.60 C616.93,560.45 621.70,556.10 621.70,556.10 C621.70,556.10 626.33,553.70 628.80,552.70 C631.27,551.70 633.93,550.78 636.50,550.08 C639.07,549.37 641.63,548.82 644.20,548.48 C646.77,548.13 649.33,548.04 651.90,548.00 C654.47,547.96 656.82,548.12 659.60,548.25 C662.38,548.38 665.60,548.63 668.60,548.77 C671.60,548.92 674.82,549.08 677.60,549.12 C680.38,549.17 682.90,549.14 685.30,549.02 C687.70,548.91 689.50,548.74 692.00,548.45 C694.50,548.16 697.22,547.77 700.30,547.27 C703.38,546.77 707.08,546.09 710.50,545.45 C713.92,544.81 717.37,544.10 720.80,543.42 C724.23,542.75 727.68,542.13 731.10,541.40 C734.52,540.67 737.88,539.89 741.30,539.02 C744.72,538.16 748.17,537.20 751.60,536.23 C755.03,535.25 758.47,534.20 761.90,533.20 C765.33,532.20 768.78,531.09 772.20,530.23 C775.62,529.36 779.42,528.51 782.40,528.00 C785.38,527.49 788.00,527.25 790.10,527.15 C792.20,527.05 792.80,527.15 795.00,527.40 C797.20,527.65 800.42,527.99 803.30,528.62 C806.18,529.26 809.52,530.14 812.30,531.23 C815.08,532.31 817.43,533.67 820.00,535.15 C822.57,536.63 825.13,538.33 827.70,540.12 C830.27,541.92 832.83,543.89 835.40,545.90 C837.97,547.91 840.53,550.06 843.10,552.17 C845.67,554.29 848.23,556.49 850.80,558.60 C853.37,560.71 855.93,562.85 858.50,564.85 C861.07,566.85 863.63,568.76 866.20,570.62 C868.77,572.49 871.12,574.26 873.90,576.05 C876.68,577.84 880.12,579.68 882.90,581.35 C885.68,583.02 888.25,584.61 890.60,586.05 C892.95,587.49 894.82,588.70 897.00,590.00 C899.18,591.30 901.30,592.51 903.70,593.83 C906.10,595.14 908.83,596.52 911.40,597.88 C913.97,599.23 916.53,600.63 919.10,601.92 C921.67,603.22 924.23,604.47 926.80,605.65 C929.37,606.83 931.93,607.93 934.50,609.00 C937.07,610.07 939.63,611.10 942.20,612.05 C944.77,613.00 947.33,613.87 949.90,614.67 C952.47,615.48 955.03,616.19 957.60,616.88 C960.17,617.56 962.73,618.21 965.30,618.80 C967.87,619.39 970.43,619.91 973.00,620.42 C975.57,620.94 978.13,621.40 980.70,621.90 C983.27,622.40 985.83,622.95 988.40,623.45 C990.97,623.95 993.97,624.45 996.10,624.88 C998.23,625.30 1000.35,625.81 1001.20,626.00" stroke="#0A6AB0"/>
<path d="M590.30,687.80 C591.82,687.77 596.32,687.62 599.40,687.65 C602.48,687.68 605.33,687.77 608.80,687.98 C612.27,688.18 616.57,688.54 620.20,688.88 C623.83,689.21 627.13,689.65 630.60,689.98 C634.07,690.30 637.53,690.60 641.00,690.83 C644.47,691.05 647.93,691.21 651.40,691.33 C654.87,691.44 658.33,691.50 661.80,691.50 C665.27,691.50 668.73,691.41 672.20,691.33 C675.67,691.24 679.63,691.09 682.60,690.97 C685.57,690.86 687.38,690.77 690.00,690.62 C692.62,690.48 695.53,690.32 698.30,690.10 C701.07,689.88 703.82,689.59 706.60,689.33 C709.38,689.06 712.22,688.79 715.00,688.52 C717.78,688.26 720.53,688.01 723.30,687.75 C726.07,687.49 728.83,687.21 731.60,686.95 C734.37,686.69 737.13,686.45 739.90,686.17 C742.67,685.90 745.43,685.64 748.20,685.33 C750.97,685.01 753.73,684.66 756.50,684.27 C759.27,683.89 762.02,683.45 764.80,683.00 C767.58,682.55 770.42,682.06 773.20,681.60 C775.98,681.14 778.73,680.66 781.50,680.25 C784.27,679.84 787.55,679.50 789.80,679.12 C792.05,678.75 792.75,678.49 795.00,678.00 C797.25,677.51 800.53,676.87 803.30,676.17 C806.07,675.48 808.82,674.59 811.60,673.85 C814.38,673.11 817.22,672.39 820.00,671.75 C822.78,671.11 825.53,670.53 828.30,670.00 C831.07,669.47 833.83,668.98 836.60,668.55 C839.37,668.12 842.13,667.74 844.90,667.40 C847.67,667.06 850.43,666.77 853.20,666.50 C855.97,666.23 858.73,665.98 861.50,665.77 C864.27,665.57 867.02,665.39 869.80,665.25 C872.58,665.11 875.42,665.00 878.20,664.92 C880.98,664.85 883.53,664.80 886.50,664.77 C889.47,664.75 892.68,664.78 896.00,664.80 C899.32,664.82 902.92,664.86 906.40,664.88 C909.88,664.89 913.42,664.90 916.90,664.90 C920.38,664.90 923.82,664.89 927.30,664.90 C930.78,664.91 934.32,664.92 937.80,664.95 C941.28,664.98 944.73,665.04 948.20,665.10 C951.67,665.16 955.12,665.24 958.60,665.30 C962.08,665.36 965.62,665.43 969.10,665.45 C972.58,665.48 976.72,665.51 979.50,665.45 C982.28,665.39 983.72,665.30 985.80,665.10 C987.88,664.90 989.43,664.58 992.00,664.23 C994.57,663.88 999.67,663.20 1001.20,663.00" stroke="#E6AE24"/>
</g>
<line x1="87.8" y1="23.6" x2="125.3" y2="23.6" stroke="#D25018" stroke-width="2.4"/>
<text x="127.9" y="32.9" font-size="23.5" text-anchor="start" xml:space="preserve">(±1, 0)</text>
<line x1="87.8" y1="50.0" x2="125.3" y2="50.0" stroke="#000000" stroke-width="2.4"/>
<text x="127.9" y="59.3" font-size="23.5" text-anchor="start" xml:space="preserve">( 0, 0)</text>
<line x1="87.8" y1="76.3" x2="125.3" y2="76.3" stroke="#0A6AB0" stroke-width="2.4"/>
<text x="127.9" y="85.6" font-size="23.5" text-anchor="start" xml:space="preserve">( 0,±1)</text>
<line x1="887.1" y1="24.0" x2="925.2" y2="24.0" stroke="#D25018" stroke-width="2.4"/>
<text x="928.1" y="34.0" font-size="23.5" text-anchor="start" xml:space="preserve">(±1, 0)</text>
<line x1="887.1" y1="50.2" x2="925.2" y2="50.2" stroke="#000000" stroke-width="2.4"/>
<text x="928.1" y="60.2" font-size="23.5" text-anchor="start" xml:space="preserve">( 0, 0)</text>
<line x1="887.1" y1="76.6" x2="925.2" y2="76.6" stroke="#0A6AB0" stroke-width="2.4"/>
<text x="928.1" y="86.6" font-size="23.5" text-anchor="start" xml:space="preserve">( 0,±1)</text>
<line x1="887.1" y1="102.9" x2="925.2" y2="102.9" stroke="#E6AE24" stroke-width="2.4"/>
<text x="928.1" y="112.9" font-size="23.5" text-anchor="start" xml:space="preserve">(±1,±1)</text>
<line x1="91.4" y1="422.0" x2="128.9" y2="422.0" stroke="#D25018" stroke-width="2.4"/>
<text x="132.2" y="431.8" font-size="23.5" text-anchor="start" xml:space="preserve">(±1, 0)</text>
<line x1="91.4" y1="448.6" x2="128.9" y2="448.6" stroke="#000000" stroke-width="2.4"/>
<text x="132.2" y="458.4" font-size="23.5" text-anchor="start" xml:space="preserve">( 0, 0)</text>
<line x1="91.4" y1="475.0" x2="128.9" y2="475.0" stroke="#0A6AB0" stroke-width="2.4"/>
<text x="132.2" y="484.8" font-size="23.5" text-anchor="start" xml:space="preserve">( 0,±1)</text>
<line x1="888.4" y1="419.5" x2="925.6" y2="419.5" stroke="#D25018" stroke-width="2.4"/>
<text x="928.9" y="429.1" font-size="23.5" text-anchor="start" xml:space="preserve">(±1, 0)</text>
<line x1="888.4" y1="446.1" x2="925.6" y2="446.1" stroke="#000000" stroke-width="2.4"/>
<text x="928.9" y="455.7" font-size="23.5" text-anchor="start" xml:space="preserve">( 0, 0)</text>
<line x1="888.4" y1="472.1" x2="925.6" y2="472.1" stroke="#0A6AB0" stroke-width="2.4"/>
<text x="928.9" y="481.7" font-size="23.5" text-anchor="start" xml:space="preserve">( 0,±1)</text>
<line x1="888.4" y1="498.6" x2="925.6" y2="498.6" stroke="#E6AE24" stroke-width="2.4"/>
<text x="928.9" y="508.2" font-size="23.5" text-anchor="start" xml:space="preserve">(±1,±1)</text>
<text x="0.0" y="21.6" font-size="31" text-anchor="start" >(a)</text>
<text x="506.8" y="21.9" font-size="31" text-anchor="start" >(b)</text>
<text x="-0.2" y="418.1" font-size="31" text-anchor="start" >(c)</text>
<text x="506.8" y="413.6" font-size="31" text-anchor="start" >(d)</text>
</g>
</g>
</svg>
</body></html>
